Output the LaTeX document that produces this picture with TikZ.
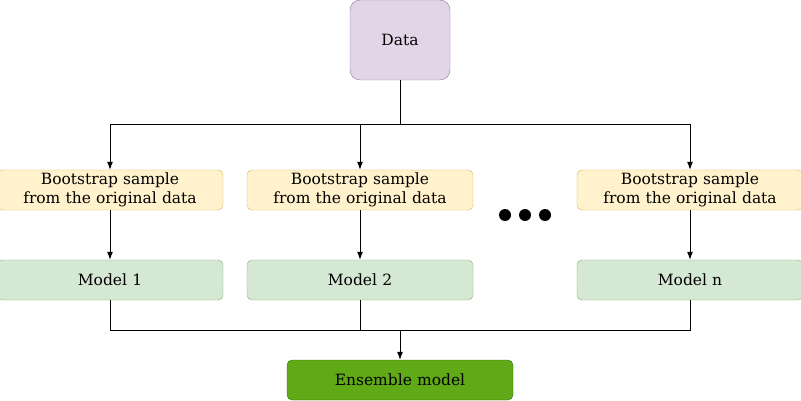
\documentclass[tikz,border=0pt]{standalone}
\usepackage{fontspec}
\setmainfont{DejaVu Serif}
\usetikzlibrary{positioning,calc,arrows.meta}
\definecolor{dataFill}{HTML}{E1D5E7}
\definecolor{dataLine}{HTML}{9673A6}
\definecolor{bootFill}{HTML}{FFF2CC}
\definecolor{bootLine}{HTML}{D6B656}
\definecolor{modelFill}{HTML}{D5E8D4}
\definecolor{modelLine}{HTML}{82B366}
\definecolor{ensFill}{HTML}{60A917}
\definecolor{ensLine}{HTML}{2D7600}
\tikzset{box/.style={rectangle, rounded corners=5pt, minimum width=220pt,
    minimum height=40pt, text width=226pt, align=center, inner sep=0pt,
    font=\fontsize{15.5}{19}\selectfont},
  boot/.style={box, fill=bootFill, draw=bootLine},
  model/.style={box, fill=modelFill, draw=modelLine},
  myarrow/.style={-{Latex[length=8pt,width=6pt]}, line width=1pt},
  line/.style={-, line width=1pt}
}

\begin{document}
\begin{tikzpicture}[x=1pt,y=-1pt]
   \useasboundingbox (0,0) rectangle (801,401);

   %Data node
   \node (Data) [box, fill=dataFill, draw=dataLine, rounded corners=10pt,
     minimum width=100pt, text width=96pt, minimum height=80pt] at (400,40) {Data};

   %Bootstrap nodes
   \node (Boot-1) [boot] at (110,190) {Bootstrap sample from the original data};
   \node (Boot-2) [boot] at (360,190) {Bootstrap sample from the original data};
   \node (Boot-n) [boot] at (690,190) {Bootstrap sample from the original data};

   %Model nodes
   \node (Model-1) [model] at (110,280) {Model 1};
   \node (Model-2) [model] at (360,280) {Model 2};
   \node (Model-n) [model] at (690,280) {Model n};

   %Ensemble node
   \node (Ensemble) [box, fill=ensFill, draw=ensLine] at (400,380) {Ensemble model};

   %dots
   \foreach \x in {505,525,545}
      \fill (\x,215) circle (6pt);

   \coordinate (Split) at (400,125);
   \coordinate (Join) at (400,330);

   \draw[line] (Data.south) -- (Split);
   \draw[myarrow] (Split) -| (Boot-1.north);
   \draw[myarrow] (Split) -| (Boot-n.north);
   \draw[myarrow] (Boot-2.north |- Split) -- (Boot-2.north);

   \draw[myarrow] (Boot-1) -- (Model-1);
   \draw[myarrow] (Boot-2) -- (Model-2);
   \draw[myarrow] (Boot-n) -- (Model-n);

   \draw[line] (Model-1.south) |- (Join);
   \draw[line] (Model-n.south) |- (Join);
   \draw[line] (Model-2.south) -- (Model-2.south |- Join);
   \draw[myarrow] (Join) -- (Ensemble.north);

\end{tikzpicture}
\end{document}
